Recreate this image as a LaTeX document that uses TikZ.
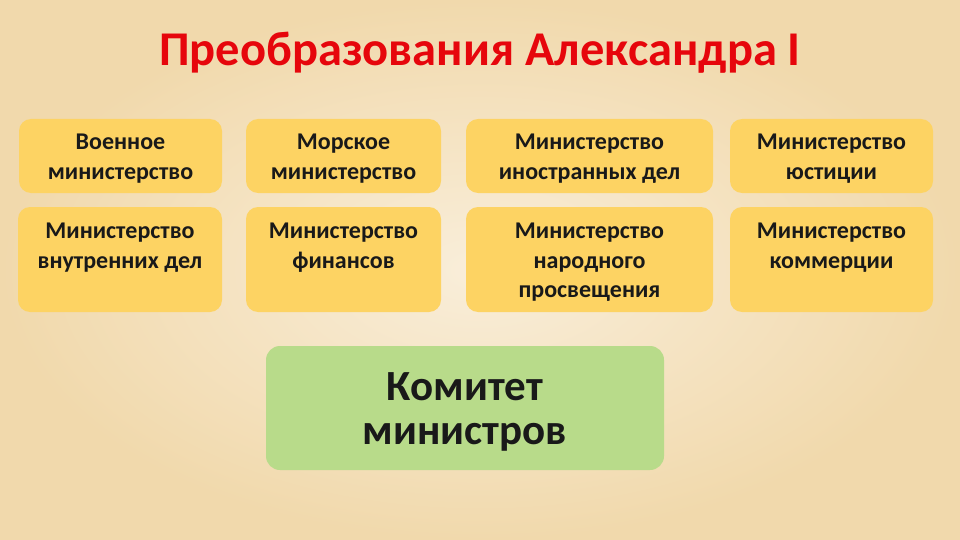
\documentclass[tikz,border=0pt]{standalone}
\usepackage{fontspec}
\setmainfont{Carlito}
\usetikzlibrary{shadings}
\definecolor{bgin}{HTML}{F9EEDA}
\definecolor{bgout}{HTML}{F1D9AC}
\definecolor{ybox}{HTML}{FDD363}
\definecolor{gbox}{HTML}{B8DB8A}
\definecolor{titlered}{HTML}{E6060C}
\tikzset{
  yrect/.style={draw=none, fill=ybox, rounded corners=12pt, inner sep=0pt},
  grect/.style={draw=none, fill=gbox, rounded corners=14pt, inner sep=0pt},
  ytext/.style={anchor=north, align=center, font=\fontsize{24}{29.5}\selectfont\bfseries, text=black!90, inner sep=0pt},
  gtext/.style={anchor=north, align=center, font=\fontsize{43}{44}\selectfont\bfseries, text=black!90, inner sep=0pt},
  titletext/.style={anchor=north, font=\fontsize{48.5}{52}\selectfont\bfseries, text=titlered, inner sep=0pt}
}
\begin{document}
\begin{tikzpicture}[x=1pt,y=-1pt]
\useasboundingbox (0,0) rectangle (960,540);
\shade[inner color=bgin, outer color=bgout] (0,0) rectangle (960,540);
\coordinate (ttop) at (480,32);
\node[titletext] (title) at (ttop) {Преобразования Александра I};
% row 1
\node[yrect, minimum width=203pt, minimum height=74pt] (b1) at (120.5,156) {};
\node[yrect, minimum width=195pt, minimum height=74pt] (b2) at (343.5,156) {};
\node[yrect, minimum width=247pt, minimum height=74pt] (b3) at (589.5,156) {};
\node[yrect, minimum width=203pt, minimum height=74pt] (b4) at (831.5,156) {};
% row 2
\node[yrect, minimum width=204pt, minimum height=105pt] (b5) at (120,259.5) {};
\node[yrect, minimum width=195pt, minimum height=105pt] (b6) at (343.5,259.5) {};
\node[yrect, minimum width=247pt, minimum height=105pt] (b7) at (589.5,259.5) {};
\node[yrect, minimum width=203pt, minimum height=105pt] (b8) at (831.5,259.5) {};
% green
\node[grect, minimum width=398pt, minimum height=124pt] (g) at (465,408) {};
% texts
\node[ytext] (t1) at ([yshift=-15pt]b1.north) {Военное\\министерство};
\node[ytext] (t2) at ([yshift=-15pt]b2.north) {Морское\\министерство};
\node[ytext] (t3) at ([yshift=-15pt]b3.north) {Министерство\\иностранных дел};
\node[ytext] (t4) at ([yshift=-15pt]b4.north) {Министерство\\юстиции};
\node[ytext] (t5) at ([yshift=-16pt]b5.north) {Министерство\\внутренних дел};
\node[ytext] (t6) at ([yshift=-16pt]b6.north) {Министерство\\финансов};
\node[ytext] (t7) at ([yshift=-16pt]b7.north) {Министерство\\народного\\просвещения};
\node[ytext] (t8) at ([yshift=-16pt]b8.north) {Министерство\\коммерции};
\node[gtext] (gt) at ([yshift=-27pt]g.north) {Комитет\\министров};
\end{tikzpicture}
\end{document}
